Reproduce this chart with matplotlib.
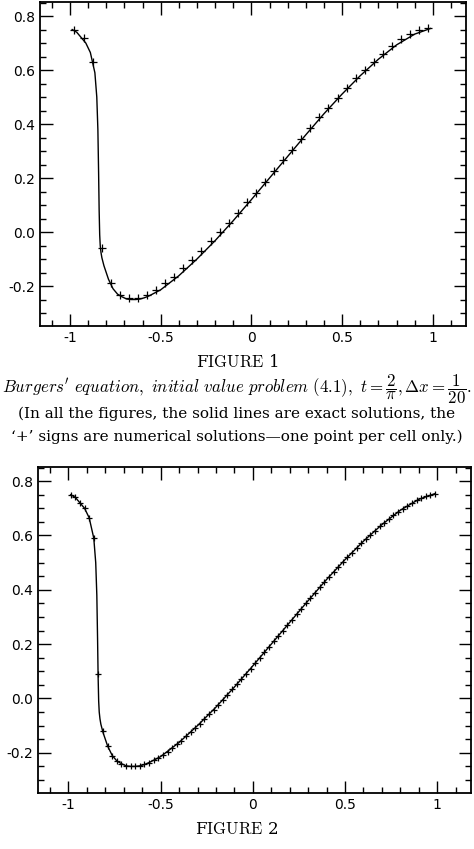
import numpy as np
import matplotlib
matplotlib.use("Agg")
import matplotlib.pyplot as plt
from matplotlib.ticker import MultipleLocator

plt.rcParams["mathtext.fontset"] = "cm"

# Figure 1: one value per cell, dx = 1/20
fig1_u = [0.75, 0.72, 0.63, -0.06, -0.19, -0.235, -0.245, -0.245, -0.235, -0.215,
          -0.19, -0.165, -0.135, -0.105, -0.07, -0.035, 0.0, 0.035, 0.07, 0.11,
          0.145, 0.185, 0.225, 0.265, 0.305, 0.345, 0.385, 0.425, 0.46, 0.495,
          0.535, 0.57, 0.60, 0.63, 0.66, 0.69, 0.715, 0.735, 0.75, 0.755]

# Figure 2: one value per cell, dx = 1/40
fig2_u = [0.75, 0.74, 0.72, 0.70, 0.665, 0.59, 0.09,
          -0.12, -0.175, -0.21, -0.23, -0.24, -0.248, -0.25, -0.25, -0.248, -0.243, -0.236,
          -0.228, -0.219, -0.208, -0.196, -0.183, -0.169, -0.155, -0.140, -0.125, -0.109,
          -0.093, -0.076, -0.059, -0.041, -0.023, -0.005, 0.014, 0.033, 0.052, 0.071,
          0.090, 0.110, 0.130, 0.150, 0.170, 0.190, 0.210, 0.230, 0.250, 0.270,
          0.290, 0.310, 0.330, 0.350, 0.370, 0.390, 0.409, 0.428, 0.447, 0.466,
          0.484, 0.502, 0.520, 0.537, 0.554, 0.571, 0.587, 0.603, 0.618, 0.633,
          0.647, 0.661, 0.674, 0.687, 0.699, 0.710, 0.720, 0.729, 0.737, 0.744,
          0.750, 0.754]

# exact solution
exact_x = [-0.9875, -0.9625, -0.9375, -0.9125, -0.8875, -0.8625, -0.852, -0.846, -0.842,
           -0.839, -0.836, -0.833, -0.829, -0.824, -0.8125, -0.7875, -0.7625, -0.7375, -0.7125,
           -0.6875, -0.6625, -0.6375, -0.6125, -0.5875, -0.5625, -0.5, -0.4, -0.3, -0.2,
           -0.1, 0.0, 0.1, 0.2, 0.3, 0.4, 0.5, 0.6, 0.7, 0.8, 0.9, 0.9875]
exact_u = [0.75, 0.74, 0.72, 0.70, 0.665, 0.59, 0.50, 0.38, 0.22,
           0.08, -0.01, -0.05, -0.075, -0.095, -0.125, -0.175, -0.21, -0.23, -0.24,
           -0.248, -0.25, -0.25, -0.248, -0.243, -0.236, -0.214, -0.162, -0.100, -0.032,
           0.042, 0.120, 0.200, 0.280, 0.360, 0.438, 0.511, 0.579, 0.640, 0.693, 0.733, 0.754]

TICK_FONT = {"family": "DejaVu Sans", "size": 10}


def style_axes(ax):
    ax.set_xlim(-1.165, 1.183)
    ax.set_ylim(-0.348, 0.852)
    ax.xaxis.set_minor_locator(MultipleLocator(0.1))
    ax.yaxis.set_minor_locator(MultipleLocator(0.05))
    ax.tick_params(which="both", direction="in", top=True, right=True, width=1)
    ax.tick_params(which="major", length=9)
    ax.tick_params(which="minor", length=4)
    ax.set_xticks([-1, -0.5, 0, 0.5, 1])
    ax.set_xticklabels(["-1", "-0.5", "0", "0.5", "1"], fontdict=TICK_FONT)
    yt = [-0.2, 0.0, 0.2, 0.4, 0.6, 0.8]
    ax.set_yticks(yt)
    ax.set_yticklabels([f"{v:.1f}" for v in yt], fontdict=TICK_FONT)
    for s in ax.spines.values():
        s.set_linewidth(1.3)


def cell_centres(n):
    dx = 2.0 / n
    return -1 + dx * (np.arange(n) + 0.5)


W, H = 474, 849
fig = plt.figure(figsize=(W / 100, H / 100), dpi=100)

ax1 = fig.add_axes([40 / W, 1 - 326 / H, 426 / W, 324 / H])
ax1.plot(exact_x, exact_u, color="black", lw=1)
ax1.plot(cell_centres(len(fig1_u)), fig1_u, "+", color="black", ms=5.5, mew=0.9)
style_axes(ax1)

ax2 = fig.add_axes([38 / W, 1 - 793 / H, 433 / W, 326 / H])
ax2.plot(exact_x, exact_u, color="black", lw=1)
ax2.plot(cell_centres(len(fig2_u)), fig2_u, "+", color="black", ms=4.5, mew=0.9)
style_axes(ax2)

serif = {"family": "DejaVu Serif", "size": 11}
fig.text(0.5, 1 - 363 / H, r"F$\mathrm{IGURE}$ 1", ha="center", va="center",
         family="DejaVu Serif", size=12)
fig.text(0.5, 1 - 389 / H,
         r"$\mathit{Burgers'\ equation,\ initial\ value\ problem}\ \mathrm{(4.1)},\ "
         r"t=\dfrac{2}{\pi}, \Delta x=\dfrac{1}{20}.$",
         ha="center", va="center", size=12.2)
fig.text(0.5, 1 - 414 / H,
         "(In all the figures, the solid lines are exact solutions, the",
         ha="center", va="center", **serif)
fig.text(0.5, 1 - 437 / H,
         "\u2018+\u2019 signs are numerical solutions\u2014one point per cell only.)",
         ha="center", va="center", **serif)
fig.text(0.5, 1 - 830 / H, r"F$\mathrm{IGURE}$ 2", ha="center", va="center",
         family="DejaVu Serif", size=12)

fig.savefig("out.png", dpi=100)
